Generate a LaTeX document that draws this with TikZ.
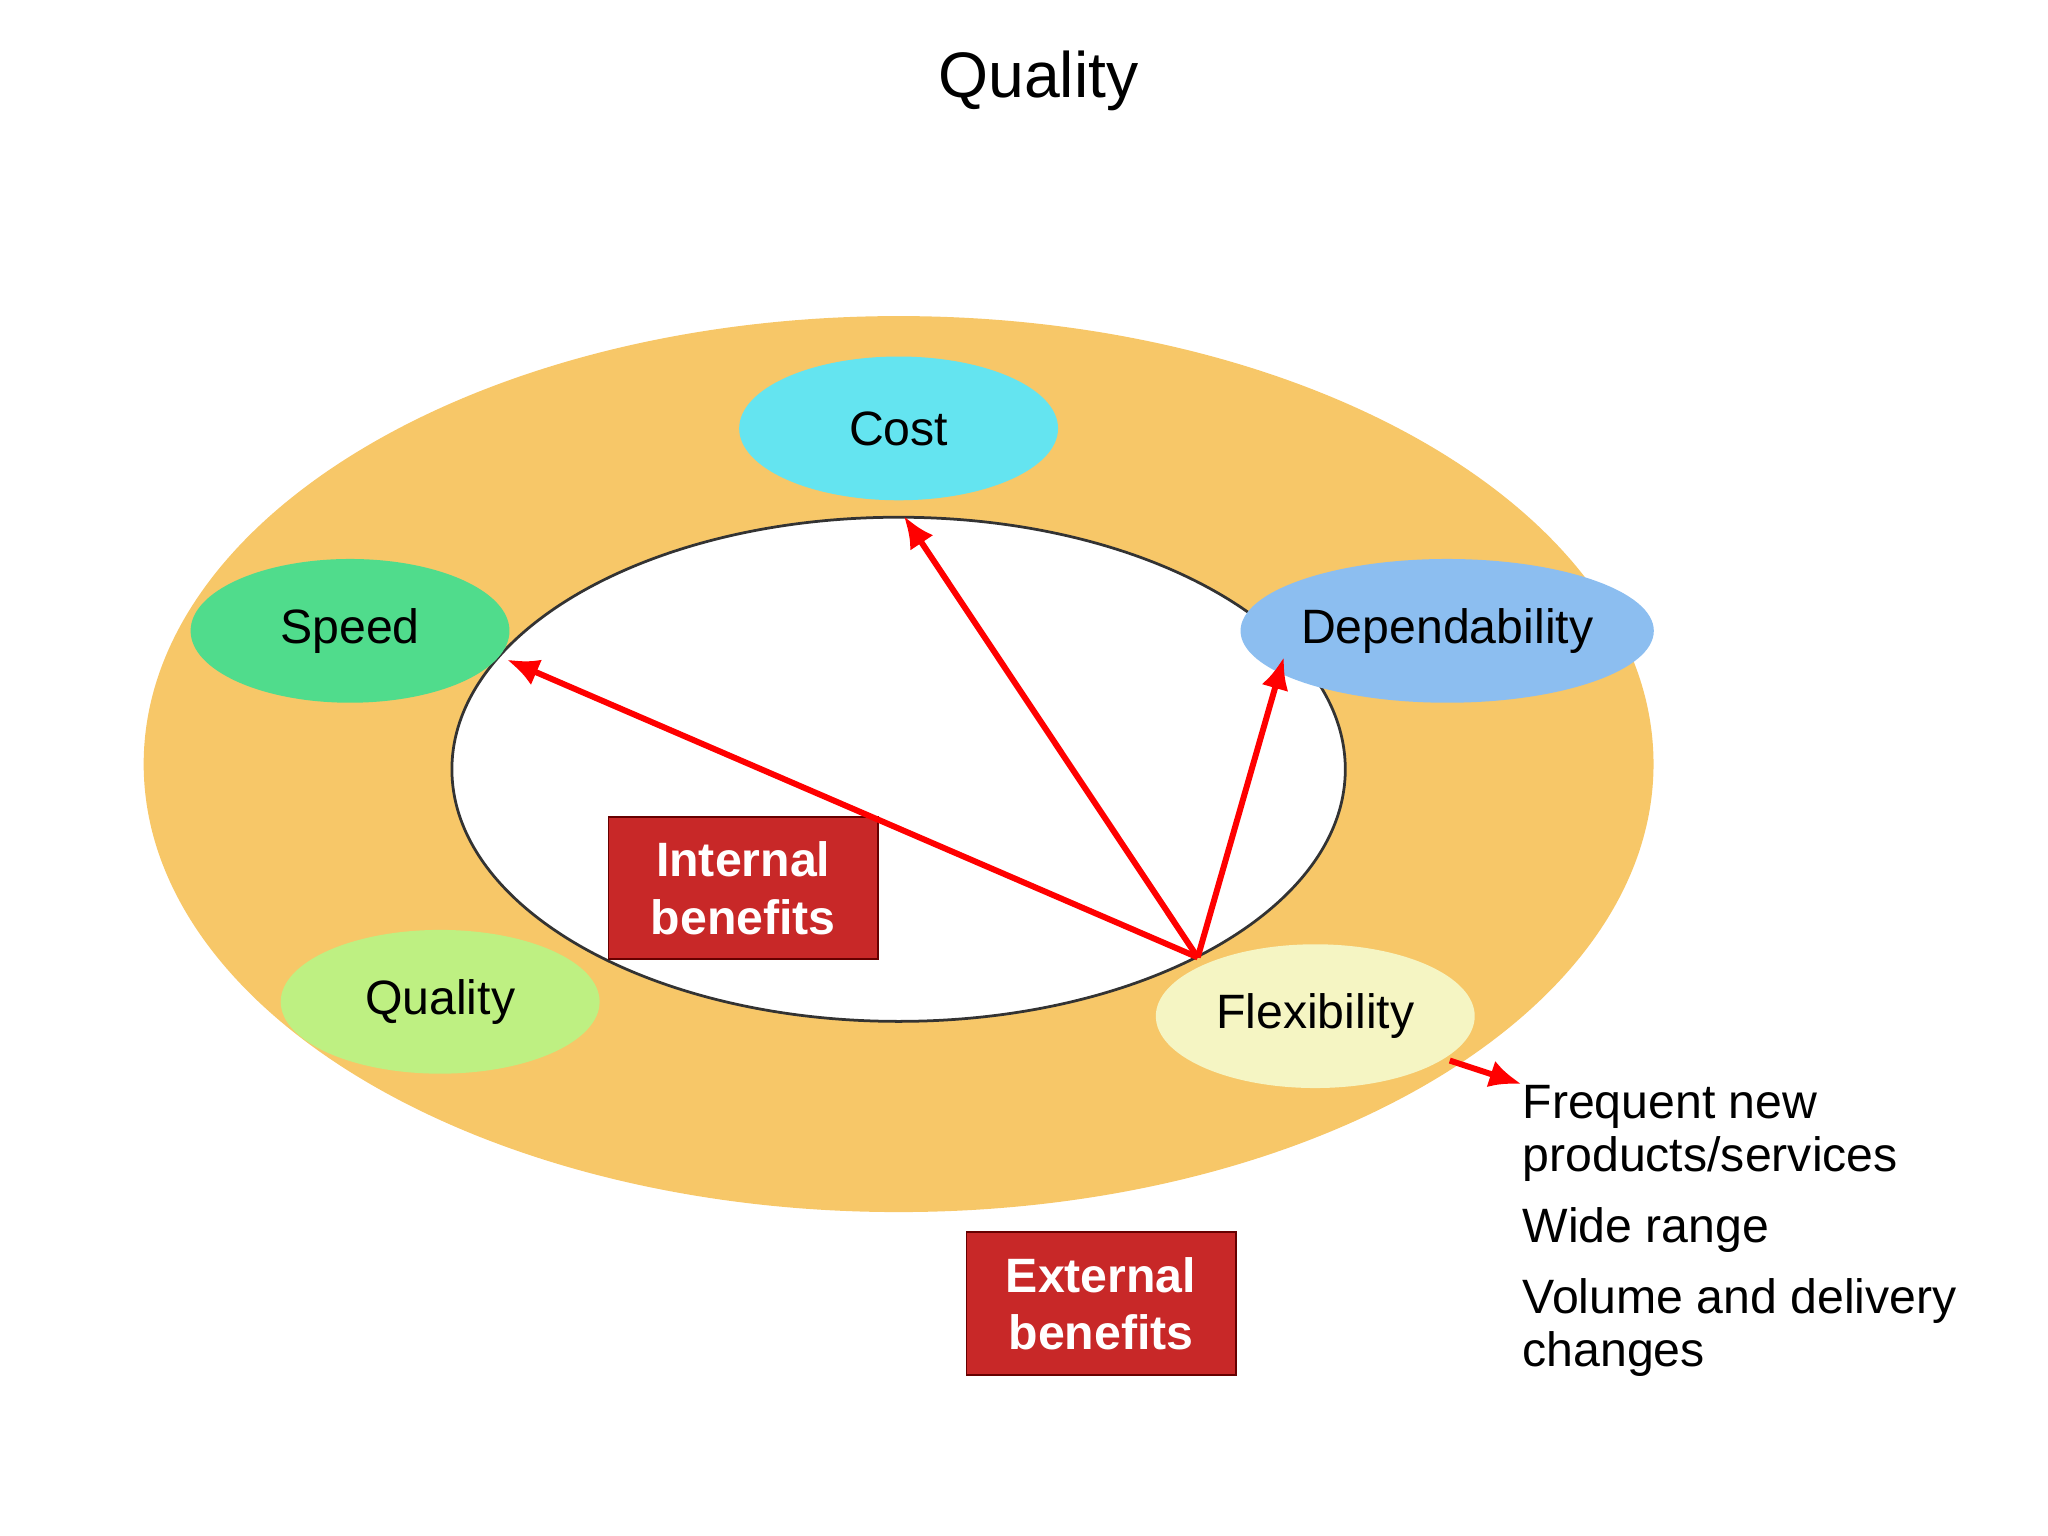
\documentclass[tikz,border=0pt]{standalone}
\usepackage{fontspec}
\setmainfont{Liberation Sans}
\usetikzlibrary{shapes.geometric,arrows.meta}
\definecolor{ring}{RGB}{247,199,104}
\definecolor{costc}{RGB}{100,228,240}
\definecolor{speedc}{RGB}{80,220,140}
\definecolor{depc}{RGB}{140,190,240}
\definecolor{qualc}{RGB}{190,240,130}
\definecolor{flexc}{RGB}{245,245,195}
\definecolor{boxc}{RGB}{200,40,40}
\begin{document}
\begin{tikzpicture}[x=0.01cm,y=-0.01cm,
  oval/.style={ellipse,minimum width=2.44cm,minimum height=1.1cm,inner sep=0pt,font=\fontsize{10.5}{12}\selectfont},
  redbox/.style={draw=red!40!black,fill=boxc,text=white,font=\bfseries\fontsize{10.5}{12.5}\selectfont,minimum width=2.06cm,minimum height=1.09cm,align=center,inner sep=0pt},
  arr/.style={red,line width=1.3pt,-{Latex[length=7pt,width=6pt]}}]
\useasboundingbox (0,0) rectangle (1568,1176);
\node[font=\fontsize{14}{16}\selectfont] (title) at (795,62) {Quality};
\fill[ring] (688,585) ellipse [x radius=578,y radius=343];
\draw[fill=white,draw=black!80,line width=0.6pt] (688,589) ellipse [x radius=342,y radius=193];
\node[oval,fill=costc] (cost) at (688,328) {Cost};
\node[oval,fill=speedc] (speed) at (268,483) {Speed};
\node[oval,fill=depc,minimum width=2.6cm] (dep) at (1108,483) {Dependability};
\node[oval,fill=qualc] (qual) at (337,767) {Quality};
\node[oval,fill=flexc] (flex) at (1007,778) {Flexibility};
\node[redbox] (ib) at (569,680) {Internal\\benefits};
\node[redbox] (eb) at (843,998) {External\\benefits};
\coordinate (hub) at (917,733);
\coordinate (ct) at (692,395);
\coordinate (st) at (388,505);
\coordinate (dt) at (983,503);
\draw[arr] (hub) -- (ct);
\draw[arr] (hub) -- (st);
\draw[arr] (hub) -- (dt);
\coordinate (fs) at (1110,812);
\node[anchor=north west,align=left,inner sep=0pt,font=\fontsize{10.5}{11.5}\selectfont] (list) at (1165,830)
 {Frequent new\\products/services\\[4pt]Wide range\\[4pt]Volume and delivery\\changes};
\draw[arr] (fs) -- (list.north west);
\end{tikzpicture}
\end{document}
